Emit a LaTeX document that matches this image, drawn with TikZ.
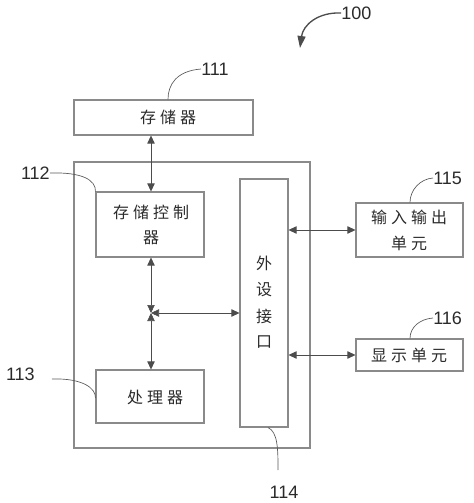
\documentclass[tikz,border=0pt]{standalone}
\usepackage{fontspec}
\setmainfont{Liberation Sans}
\newfontfamily\cjk[LetterSpace=25]{Noto Sans CJK SC}
\usetikzlibrary{arrows.meta,fit}
\definecolor{boxgray}{HTML}{8A8A8A}
\definecolor{txt}{HTML}{2A2A2A}
\begin{document}
\begin{tikzpicture}[x=0.75pt,y=-0.75pt,
 box/.style={draw=boxgray, line width=0.8pt, inner sep=0pt},
 conn/.style={draw=black!70, line width=0.5pt, {Triangle[length=6pt,width=5.5pt]}-{Triangle[length=6pt,width=5.5pt]}},
 lead/.style={draw=black!65, line width=0.5pt},
 num/.style={font=\fontsize{13.5}{14}\selectfont, text=txt, inner sep=0pt},
 lbl/.style={font=\cjk\fontsize{12}{14}\selectfont, text=txt, inner sep=0pt}]
\useasboundingbox (0,0) rectangle (474,503);
% boxes
\node[box, fit={(74,100)(253,135)}] (mem) {};
\node[box, fit={(74,162)(310,448)}] (outer) {};
\node[box, fit={(96,192)(204,257)}] (ctl) {};
\node[box, fit={(96,370)(204,423)}] (proc) {};
\node[box, fit={(240,179)(288,427)}] (per) {};
\node[box, fit={(356,203)(463,257)}] (io) {};
\node[box, fit={(356,339)(463,371)}] (disp) {};
% texts
\node[lbl] (tmem) at (168,117) {存储器};
\node[lbl] (tctl1) at (151,212) {存储控制};
\node[lbl] (tctl2) at (151,238) {器};
\node[lbl] (tproc) at (155,397) {处理器};
\node[lbl] (tp1) at (264,263) {外};
\node[lbl] (tp2) at (264,290) {设};
\node[lbl] (tp3) at (264,316) {接};
\node[lbl] (tp4) at (264,342) {口};
\node[lbl] (tio1) at (409,217) {输入输出};
\node[lbl] (tio2) at (409,243) {单元};
\node[lbl] (tdisp) at (409,355) {显示单元};
% connectors
\coordinate (j) at (151,313);
\draw[conn] (j |- mem.south) -- (j |- ctl.north);
\draw[conn] (j |- ctl.south) -- (j);
\draw[conn] (j) -- (j |- proc.north);
\draw[conn] (j) -- (j -| per.west);
\draw[conn] (per.east |- io.west) -- (io.west);
\draw[conn] (per.east |- disp.west) -- (disp.west);
% reference numerals
\node[num, anchor=west] (n100) at (341,13) {100};
\node[num, anchor=west] (n111) at (201,69) {111};
\node[num, anchor=east] (n112) at (50,173) {112};
\node[num, anchor=east] (n113) at (35,374) {113};
\node[num] (n114) at (284,492) {114};
\node[num, anchor=west] (n115) at (433,178) {115};
\node[num, anchor=west] (n116) at (433,318) {116};
\coordinate (a100) at (300,48);
\draw[draw=black!70, line width=1pt, -{Triangle[length=9pt,width=6pt]}] (n100.west) .. controls (318,12) and (303,25) .. (a100);
\draw[lead] (n111.west) .. controls (176,71) and (168,85) .. (mem.north -| 168,0);
\draw[lead] (n112.east) .. controls (82,172) and (96,180) .. (ctl.north west);
\coordinate (e113) at (52,379);
\draw[lead] (e113) .. controls (82,378) and (96,388) .. (proc.west |- 0,398);
\coordinate (e114) at (278,470);
\draw[lead] (per.south -| 268,0) .. controls (278,432) and (278,450) .. (e114);
\draw[lead] (io.north -| 410,0) .. controls (410,190) and (420,179) .. (n115.west);
\draw[lead] (disp.north -| 410,0) .. controls (410,327) and (420,319) .. (n116.west);
\end{tikzpicture}
\end{document}
